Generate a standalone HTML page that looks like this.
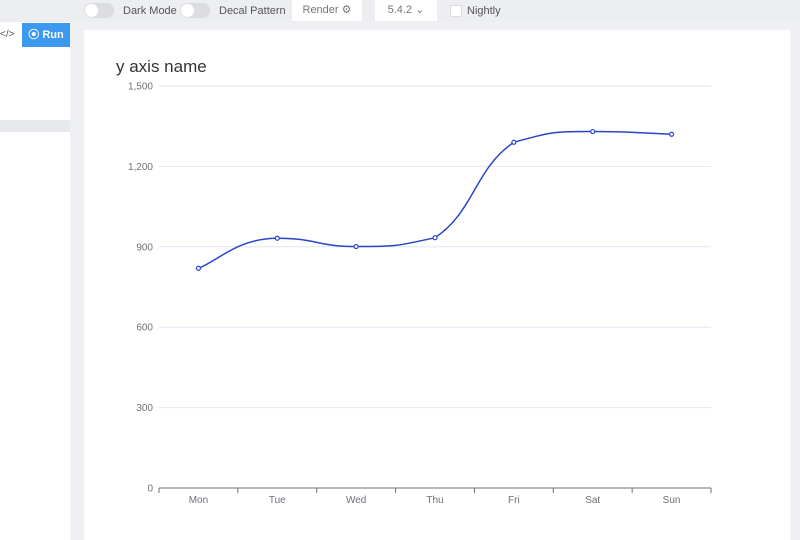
<!DOCTYPE html>
<html><head><meta charset="utf-8">
<style>
body{margin:0;width:800px;height:540px;background:#eef0f3;font-family:"Liberation Sans",sans-serif;position:relative;overflow:hidden}
.tb{position:absolute;top:0;left:0;width:800px;height:22px;background:#eceef1;font-size:11px;color:#555}
.tog{position:absolute;top:3px;width:30px;height:15px;border-radius:8px;background:#dcdde0}
.tog::after{content:"";position:absolute;left:1px;top:1px;width:13px;height:13px;border-radius:7px;background:#fff}
.lbl{position:absolute;top:5px}
.box{position:absolute;top:0;height:21px;background:#fff;font-size:11px;line-height:21px;color:#777;text-align:center}
#left{position:absolute;left:0;top:22px;width:70px;height:518px;background:#fff}
#run{position:absolute;left:22px;top:23px;width:48px;height:24px;background:#3c99f0;color:#fff;font-size:11px;font-weight:bold;line-height:24px;text-align:center}
#panel{position:absolute;left:84px;top:30px;width:706px;height:510px;background:#fff}
</style></head><body>
<div class="tb">
<div class="tog" style="left:84px"></div>
<span class="lbl" style="left:123px">Dark Mode</span>
<div class="tog" style="left:180px"></div>
<span class="lbl" style="left:219px">Decal Pattern</span>
<div class="box" style="left:292px;width:70px">Render ⚙</div>
<div class="box" style="left:375px;width:62px">5.4.2 ⌄</div>
<div style="position:absolute;left:450px;top:5px;width:10px;height:10px;border:1px solid #ddd;background:#fff"></div>
<span class="lbl" style="left:467px">Nightly</span>
</div>
<div id="left">
<span style="position:absolute;left:0;top:7px;font-size:10px;color:#555">&lt;/&gt;</span>
<div style="position:absolute;left:0;top:98px;width:70px;height:12px;background:#e8e9ec"></div>
</div>
<div id="run">⦿ Run</div>
<div id="panel"></div>
<svg id="chart" width="800" height="540" style="position:absolute;left:0;top:0"></svg>
<script>
const categories=["Mon","Tue","Wed","Thu","Fri","Sat","Sun"];
const values=[820,932,901,934,1290,1330,1320];
const yTicks=[0,300,600,900,1200,1500];
const yTickLabels=["0","300","600","900","1,200","1,500"];
const svg=document.getElementById('chart');
const NS="http://www.w3.org/2000/svg";
const x0=159,x1=711,yBase=488,yTop=86,yMax=1500;
const bw=(x1-x0)/categories.length;
const xs=i=>x0+bw*(i+0.5);
const ys=v=>yBase-(v/yMax)*(yBase-yTop);
function mk(t,a){const e=document.createElementNS(NS,t);for(const k in a)e.setAttribute(k,a[k]);svg.appendChild(e);return e;}
const title=mk('text',{x:116,y:72,'font-size':17,fill:'#333','font-family':'Liberation Sans, sans-serif'});
title.textContent='y axis name';


yTicks.forEach((v,i)=>{
  const y=ys(v);
  if(v>0){const g=mk('line',{x1:x0,x2:x1,y1:y,y2:y,stroke:'#e0e6f1'});
  
  }
  const t=mk('text',{x:x0-6,y:y+3.5,'text-anchor':'end','font-size':10,fill:'#6e7079','font-family':'Liberation Sans, sans-serif'});
  t.textContent=yTickLabels[i];
  
  
});
const ax=mk('line',{x1:x0,x2:x1,y1:yBase,y2:yBase,stroke:'#6e7079'});


for(let i=0;i<=categories.length;i++){
  const tk=mk('line',{x1:x0+bw*i,x2:x0+bw*i,y1:yBase,y2:yBase+5,stroke:'#6e7079'});
  
  
}
categories.forEach((c,i)=>{
  const t=mk('text',{x:xs(i),y:yBase+15,'text-anchor':'middle','font-size':10,fill:'#6e7079','font-family':'Liberation Sans, sans-serif'});
  t.textContent=c;
  
  
});
const pts=values.map((v,i)=>[xs(i),ys(v)]);
const sm=0.5,n=pts.length;
const clamp=(v,a,b)=>Math.min(Math.max(v,Math.min(a,b)),Math.max(a,b));
const cps=pts.map((p,i)=>{
  const pr=pts[Math.max(0,i-1)],nx=pts[Math.min(n-1,i+1)];
  let vx=(nx[0]-pr[0])*sm,vy=(nx[1]-pr[1])*sm;
  if(i>0&&i<n-1&&(p[1]-pr[1])*(nx[1]-p[1])<=0)vy=0;
  const d0=Math.abs(p[0]-pr[0]),d1=Math.abs(nx[0]-p[0]);
  let r0=d0/(d0+d1),r1=d1/(d0+d1);
  if(i===0||i===n-1){r0=r1=0.5;}
  return [[p[0]-vx*r0,clamp(p[1]-vy*r0,pr[1],p[1])],[p[0]+vx*r1,clamp(p[1]+vy*r1,p[1],nx[1])]];
});
let d=`M${pts[0][0]},${pts[0][1]}`;
for(let i=0;i<n-1;i++){
  const c1=cps[i][1],c2=cps[i+1][0],p2=pts[i+1];
  d+=` C${c1[0]},${c1[1]} ${c2[0]},${c2[1]} ${p2[0]},${p2[1]}`;
}
const line=mk('path',{d:d,fill:'none',stroke:'#2945c9','stroke-width':1.5});


pts.forEach(p=>{
  const c=mk('circle',{cx:p[0],cy:p[1],r:2,fill:'#fff',stroke:'#2945c9','stroke-width':1.2});
  
  
});
</script>
</body></html>
